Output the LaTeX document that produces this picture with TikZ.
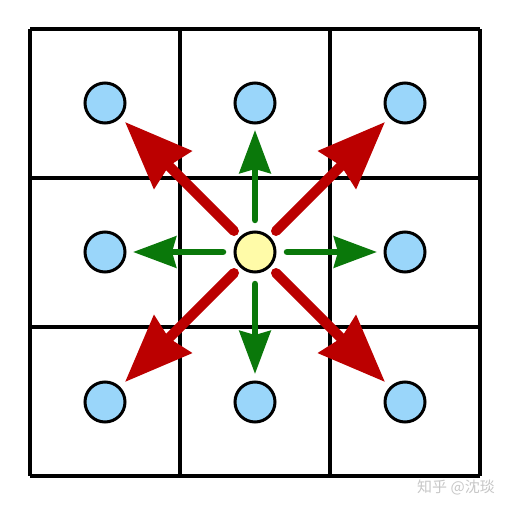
\documentclass[tikz,border=0pt]{standalone}
\usepackage{fontspec}
\newfontfamily\cjkfont{Noto Sans CJK SC}
\usetikzlibrary{arrows.meta}
\definecolor{cellblue}{HTML}{9AD6FA}
\definecolor{centeryellow}{HTML}{FFFBA8}
\definecolor{arrred}{HTML}{BB0000}
\definecolor{arrgreen}{HTML}{0A780A}
\tikzset{
  gridline/.style={line width=3.5pt, black},
  dot/.style={circle, draw=black, line width=3pt, minimum size=40pt, inner sep=0pt},
  nbr/.style={dot, fill=cellblue},
  ctr/.style={dot, fill=centeryellow},
  diagarrow/.style={arrred, line width=10pt, line cap=round, -{Stealth[length=67pt,width=52pt,inset=5pt]}},
  orthoarrow/.style={arrgreen, line width=6.5pt, line cap=round, -{Stealth[length=43pt,width=31pt,inset=4pt]}},
}
\begin{document}
\begin{tikzpicture}[x=1pt,y=-1pt]
\useasboundingbox (0,0) rectangle (510,510);
% grid
\foreach \x in {30,180,330,480} \draw[gridline] (\x,29) -- (\x,476);
\foreach \y in {29,178,327,476} \draw[gridline] (30,\y) -- (480,\y);
% start/end points of arrows
\coordinate (dTLs) at (234,231);
\coordinate (dTLe) at (125,122);
\coordinate (dTRs) at (276,231);
\coordinate (dTRe) at (385,122);
\coordinate (dBLs) at (234,273);
\coordinate (dBLe) at (125,382);
\coordinate (dBRs) at (276,273);
\coordinate (dBRe) at (385,382);
\coordinate (oUs) at (255,220);
\coordinate (oUe) at (255,130);
\coordinate (oDs) at (255,284);
\coordinate (oDe) at (255,374);
\coordinate (oLs) at (223,252);
\coordinate (oLe) at (133,252);
\coordinate (oRs) at (287,252);
\coordinate (oRe) at (377,252);
\draw[diagarrow] (dTLs) -- (dTLe);
\draw[diagarrow] (dTRs) -- (dTRe);
\draw[diagarrow] (dBLs) -- (dBLe);
\draw[diagarrow] (dBRs) -- (dBRe);
\draw[orthoarrow] (oUs) -- (oUe);
\draw[orthoarrow] (oDs) -- (oDe);
\draw[orthoarrow] (oLs) -- (oLe);
\draw[orthoarrow] (oRs) -- (oRe);
% circles
\node[nbr] (n11) at (105,103) {};
\node[nbr] (n12) at (255,103) {};
\node[nbr] (n13) at (405,103) {};
\node[nbr] (n21) at (105,252) {};
\node[ctr] (n22) at (255,252) {};
\node[nbr] (n23) at (405,252) {};
\node[nbr] (n31) at (105,402) {};
\node[nbr] (n32) at (255,402) {};
\node[nbr] (n33) at (405,402) {};
% watermark
\node[text=black!22, font=\cjkfont\fontsize{15}{15}\selectfont, anchor=center] (wm) at (456,487) {知乎 @沈琰};
\end{tikzpicture}
\end{document}
